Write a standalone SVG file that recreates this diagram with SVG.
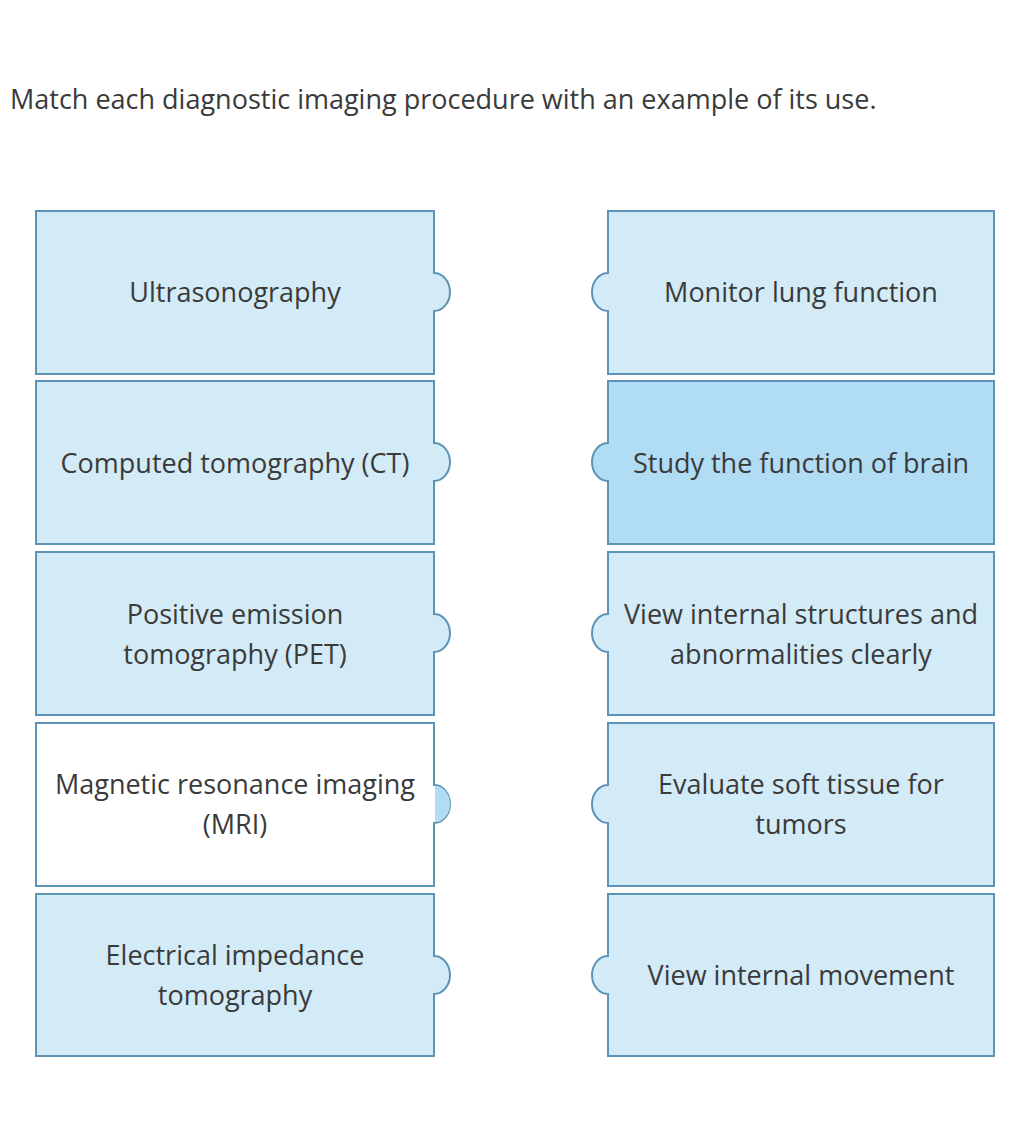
<svg xmlns="http://www.w3.org/2000/svg" width="1017" height="1123" viewBox="0 0 1017 1123">
<style>
.b{fill:#d3eaf7;stroke:#5d93b4;stroke-width:2}
.h{fill:#b0dcf4}
.w{fill:#fff}
text{font-family:"Open Sans","Noto Sans",sans-serif;font-size:27px;fill:#3a3a3a;text-anchor:middle}
</style>
<rect width="1017" height="1123" fill="#fff"/>
<text x="10" y="109" style="text-anchor:start">Match each diagnostic imaging procedure with an example of its use.</text>
<g id="l1"><path class="b" d="M36,211H434V273A16,19 0 0 1 434,311V374H36Z"/><text x="235" y="302">Ultrasonography</text></g>
<g id="l2"><path class="b" d="M36,381H434V443A16,19 0 0 1 434,481V544H36Z"/><text x="235" y="473">Computed tomography (CT)</text></g>
<g id="l3"><path class="b" d="M36,552H434V614A16,19 0 0 1 434,652V715H36Z"/><text x="235" y="624">Positive emission</text><text x="235" y="664">tomography (PET)</text></g>
<g id="l4"><path class="b w" d="M36,723H434V785A16,19 0 0 1 434,823V886H36Z"/><path class="h" d="M435,786A15,18 0 0 1 435,822Z"/><text x="235" y="794">Magnetic resonance imaging</text><text x="235" y="834">(MRI)</text></g>
<g id="l5"><path class="b" d="M36,894H434V956A16,19 0 0 1 434,994V1056H36Z"/><text x="235" y="965">Electrical impedance</text><text x="235" y="1005">tomography</text></g>
<g id="r1"><path class="b" d="M608,211H994V374H608V311A16,19 0 0 1 608,273Z"/><text x="801" y="302">Monitor lung function</text></g>
<g id="r2"><path class="b h" d="M608,381H994V544H608V481A16,19 0 0 1 608,443Z"/><text x="801" y="473">Study the function of brain</text></g>
<g id="r3"><path class="b" d="M608,552H994V715H608V652A16,19 0 0 1 608,614Z"/><text x="801" y="624">View internal structures and</text><text x="801" y="664">abnormalities clearly</text></g>
<g id="r4"><path class="b" d="M608,723H994V886H608V823A16,19 0 0 1 608,785Z"/><text x="801" y="794">Evaluate soft tissue for</text><text x="801" y="834">tumors</text></g>
<g id="r5"><path class="b" d="M608,894H994V1056H608V994A16,19 0 0 1 608,956Z"/><text x="801" y="985">View internal movement</text></g>
</svg>
